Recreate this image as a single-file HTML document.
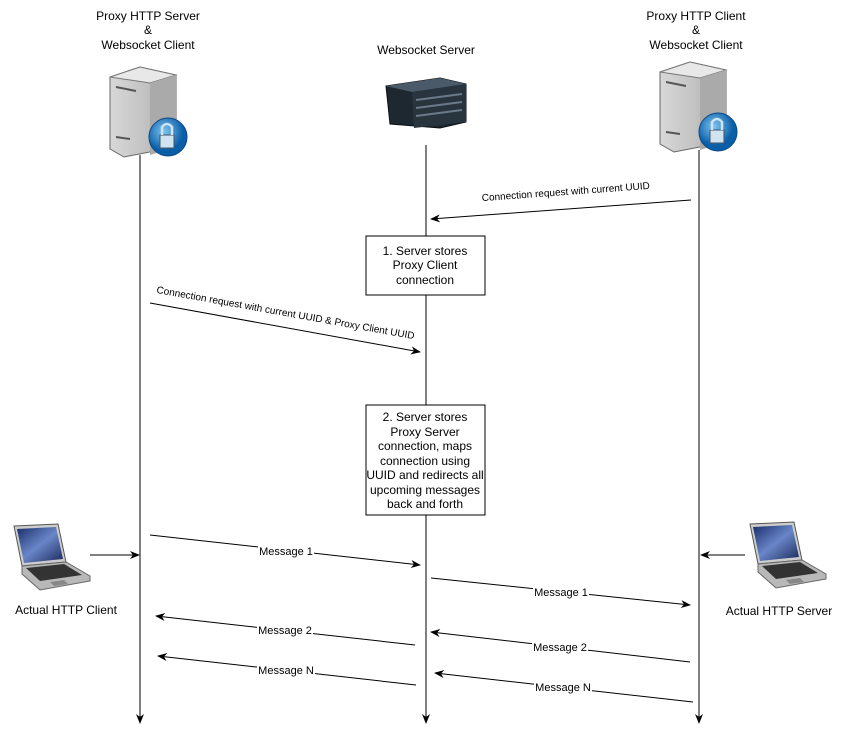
<!DOCTYPE html>
<html><head><meta charset="utf-8"><style>
html,body{margin:0;padding:0;background:#fff;}
svg{display:block;font-family:"Liberation Sans",Arial,sans-serif;}
</style></head><body>
<svg width="844" height="734" viewBox="0 0 844 734" xmlns="http://www.w3.org/2000/svg">
<defs>
<marker id="a" markerWidth="10" markerHeight="8" refX="9" refY="4" orient="auto" markerUnits="userSpaceOnUse">
<path d="M0,0 L10,4 L0,8 L3,4 Z" fill="#000"/></marker>
<linearGradient id="srv" x1="0" x2="1"><stop offset="0" stop-color="#d8d8d8"/><stop offset="0.5" stop-color="#c4c4c4"/><stop offset="1" stop-color="#a8a8a8"/></linearGradient>
<radialGradient id="glb" cx="0.4" cy="0.35"><stop offset="0" stop-color="#7fc4f0"/><stop offset="1" stop-color="#0a5ea8"/></radialGradient>
<linearGradient id="scr" x1="0" y1="0" x2="1" y2="1"><stop offset="0" stop-color="#1a2e6a"/><stop offset="0.5" stop-color="#6a86c8"/><stop offset="1" stop-color="#1a2a5a"/></linearGradient>
<g id="server">
<path d="M0,12 L30,2 L66,10 L66,82 L14,92 L0,84 Z" fill="url(#srv)" stroke="#666"/>
<path d="M0,12 L30,2 L66,10 L40,18 Z" fill="#e8e8e8" stroke="#777"/>
<path d="M40,18 L66,10 L66,82 L40,90 Z" fill="#aaa"/>
<line x1="6" y1="22" x2="26" y2="26" stroke="#555" stroke-width="2"/>
<line x1="6" y1="72" x2="20" y2="74" stroke="#555" stroke-width="2"/>
<circle cx="58" cy="72" r="19" fill="url(#glb)" stroke="#0a4a88"/>
<rect x="50" y="70" width="14" height="13" fill="#cfe3f0" stroke="#456"/>
<path d="M52,70 L52,62 Q57,56 62,62 L62,70" fill="none" stroke="#cfe3f0" stroke-width="2.5"/>
</g>
<g id="laptop">
<path d="M4,2 L48,0 L56,38 L12,42 Z" fill="#ccc" stroke="#555"/>
<path d="M7,5 L46,3 L53,35 L14,39 Z" fill="url(#scr)"/>
<path d="M12,42 L56,38 L80,52 L80,57 L30,66 L12,50 Z" fill="#b8b8b8" stroke="#666"/>
<path d="M16,44 L54,40 L72,51 L30,57 Z" fill="#333"/>
<path d="M40,58 L54,56 L58,60 L44,62 Z" fill="#888"/>
</g>
</defs>

<g font-size="12" text-anchor="middle" fill="#000">
<text x="148" y="20">Proxy HTTP Server</text><text x="148" y="34">&amp;</text><text x="148" y="49">Websocket Client</text>
<text x="696" y="20">Proxy HTTP Client</text><text x="696" y="34">&amp;</text><text x="696" y="49">Websocket Client</text>
<text x="426" y="54">Websocket Server</text>
<text x="66" y="614">Actual HTTP Client</text>
<text x="779" y="615">Actual HTTP Server</text>
</g>

<use href="#server" x="110" y="65"/>
<use href="#server" x="660" y="60"/>
<g>
<path d="M386,86 L440,78 L466,84 L466,122 L440,128 L390,124 Z" fill="#1e2830" stroke="#0c1014"/>
<path d="M386,86 L440,78 L466,84 L412,92 Z" fill="#4a5a68"/>
<path d="M412,92 L466,84 L466,122 L414,128 Z" fill="#28343e"/>
<path d="M416,100 L462,94 M416,108 L462,102 M416,116 L462,110" stroke="#6a7a88" stroke-width="2"/>
</g>
<use href="#laptop" x="10" y="524"/>
<use href="#laptop" x="746" y="522"/>

<g stroke="#000" stroke-width="1" fill="none">
<line x1="140" y1="155" x2="140" y2="723" marker-end="url(#a)"/>
<line x1="426" y1="145" x2="426" y2="723" marker-end="url(#a)"/>
<line x1="699" y1="150" x2="699" y2="723" marker-end="url(#a)"/>
<line x1="691" y1="200" x2="431" y2="219" marker-end="url(#a)"/>
<line x1="150" y1="303" x2="420" y2="352" marker-end="url(#a)"/>
<line x1="90" y1="555" x2="139" y2="555" marker-end="url(#a)"/>
<line x1="745" y1="555" x2="701" y2="555" marker-end="url(#a)"/>
<line x1="150" y1="535" x2="420" y2="565" marker-end="url(#a)"/>
<line x1="431" y1="578" x2="690" y2="605" marker-end="url(#a)"/>
<line x1="415" y1="645" x2="156" y2="616" marker-end="url(#a)"/>
<line x1="690" y1="662" x2="431" y2="632" marker-end="url(#a)"/>
<line x1="416" y1="685" x2="158" y2="656" marker-end="url(#a)"/>
<line x1="693" y1="702" x2="435" y2="673" marker-end="url(#a)"/>
</g>

<rect x="366" y="236" width="119" height="59" fill="#fff" stroke="#000"/>
<rect x="366" y="405" width="119" height="110" fill="#fff" stroke="#000"/>
<g font-size="12" text-anchor="middle">
<text x="425" y="255">1. Server stores</text><text x="425" y="269">Proxy Client</text><text x="425" y="284">connection</text>
<text x="425" y="421">2. Server stores</text><text x="425" y="436">Proxy Server</text><text x="425" y="450">connection, maps</text><text x="425" y="465">connection using</text><text x="425" y="479">UUID and redirects all</text><text x="425" y="494">upcoming messages</text><text x="425" y="508">back and forth</text>
</g>

<g font-size="10" text-anchor="middle">
<text x="566" y="195" transform="rotate(-4.2 566 195)">Connection request with current UUID</text>
<text x="285" y="316" transform="rotate(10.2 285 316)">Connection request with current UUID &amp; Proxy Client UUID</text>
</g>
<g font-size="11" text-anchor="middle">
<rect x="258" y="544" width="56" height="13" fill="#fff"/><text x="286" y="555">Message 1</text>
<rect x="533" y="585" width="56" height="13" fill="#fff"/><text x="561" y="596">Message 1</text>
<rect x="257" y="623" width="56" height="13" fill="#fff"/><text x="285" y="634">Message 2</text>
<rect x="532" y="640" width="56" height="13" fill="#fff"/><text x="560" y="651">Message 2</text>
<rect x="257" y="663" width="58" height="13" fill="#fff"/><text x="286" y="674">Message N</text>
<rect x="534" y="680" width="58" height="13" fill="#fff"/><text x="563" y="691">Message N</text>
</g>
</svg>
</body></html>
